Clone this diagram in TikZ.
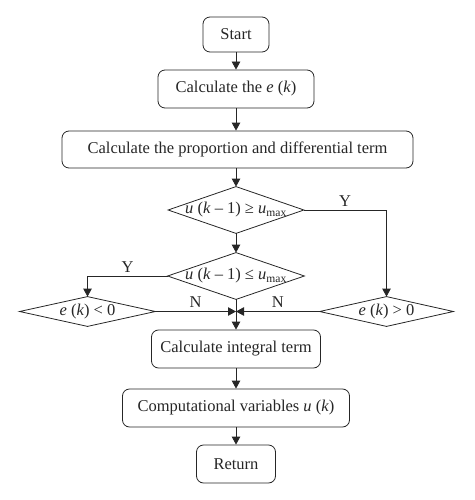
\documentclass[tikz,border=0pt]{standalone}
\usepackage{fontspec}
\setmainfont{Liberation Serif}
\usetikzlibrary{arrows.meta}
\tikzset{
  >={Triangle[length=8pt,width=8.5pt]},
  every path/.style={line width=.8pt},
  txt/.style={font=\fontsize{16.5}{19}\selectfont},
  box/.style={txt, draw, rounded corners=7pt, inner sep=0pt},
  dec/.style={txt, inner sep=0pt,
    append after command={\pgfextra{\draw (\tikzlastnode.west) -- (\tikzlastnode.north)
      -- (\tikzlastnode.east) -- (\tikzlastnode.south) -- cycle;}}},
}
\begin{document}
\begin{tikzpicture}[x=1pt,y=1pt,color=black!85]
        \useasboundingbox (0,0) rectangle (474,-500);
        \def\c{236}
        \node[box, minimum width=66pt, minimum height=35pt] (A0_1) at (\c,-34.5) {Start};
        \node[box, minimum width=156pt, minimum height=38pt] (A1_1) at (\c,-89) {Calculate the \textit{e} (\textit{k})};
        \node[box, minimum width=351pt, minimum height=37pt] (A2_1) at (237.5,-149.5) {Calculate the proportion and differential term};
        \node[dec, minimum width=135pt, minimum height=46pt] (A3_1) at (\c,-210) {\textit{u} (\textit{k} – 1) ≥ \textit{u}\textsubscript{max}};
        \node[dec, minimum width=136pt, minimum height=46pt] (A4_1) at (\c,-276) {\textit{u} (\textit{k} – 1) ≤ \textit{u}\textsubscript{max}};
        \node[dec, minimum width=135pt, minimum height=29pt] (A5_0) at (87.5,-311.5) {\textit{e} (\textit{k}) < 0};
        \node[dec, minimum width=133pt, minimum height=29pt] (A5_2) at (386.5,-311.5) {\textit{e} (\textit{k}) > 0};
        \node[box, minimum width=169pt, minimum height=38pt] (A6_1) at (\c,-349) {Calculate integral term};
        \node[box, minimum width=227pt, minimum height=38pt] (A7_1) at (\c,-408) {Computational variables \textit{u} (\textit{k})};
        \node[box, minimum width=79pt, minimum height=38pt] (A8_1) at (\c,-464) {Return};
        \coordinate (J) at (A4_1.south |- A5_0);
        \path (A0_1) edge [->] (A1_1);
        \path (A1_1) edge [->] (A1_1 |- A2_1.north);
        \path (A2_1.south -| A3_1) edge [->] (A3_1);
        \path (A3_1) edge [->] (A4_1);
        \draw [->] (A3_1.east) -| node [txt, pos=.25, above] {Y} (A5_2.north);
        \draw [->] (A4_1.west) -| node [txt, pos=.25, above] {Y} (A5_0.north);
        \draw [->] (A5_0.east) -- node [txt, above] {N} (J);
        \draw [->] (A5_2.west) -- node [txt, above] {N} (J);
        \draw [->] (A4_1.south) -- (A6_1.north);
        \path (A6_1) edge [->] (A7_1);
        \path (A7_1) edge [->] (A8_1);
      \end{tikzpicture}
\end{document}
